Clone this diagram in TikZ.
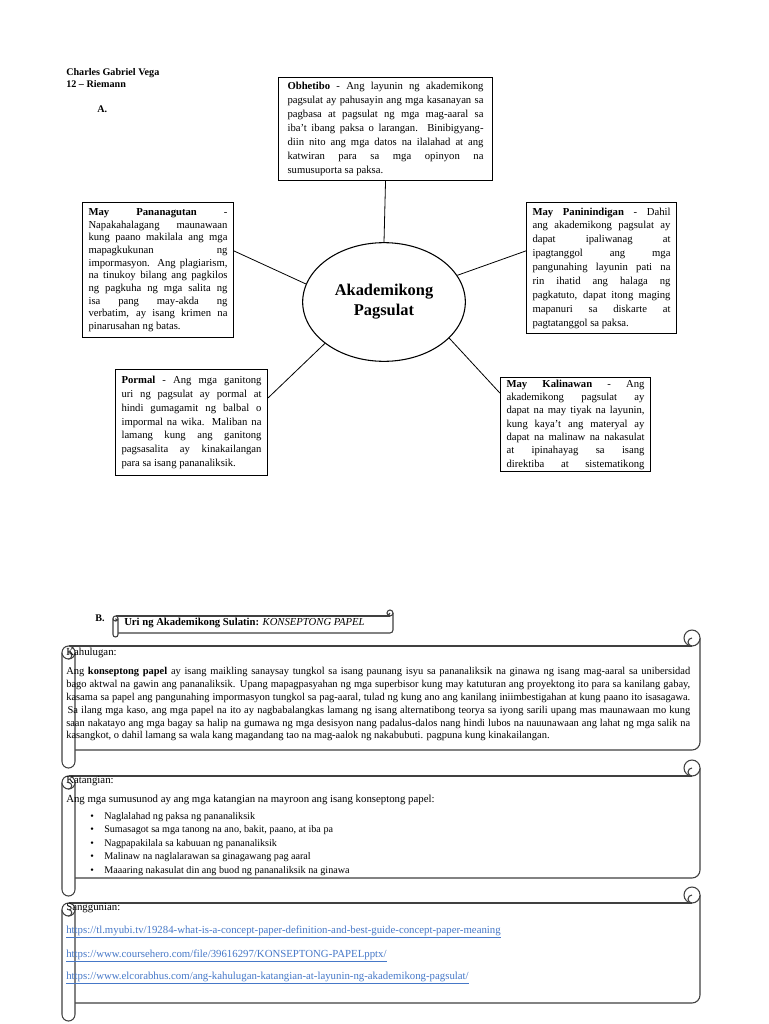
\documentclass[tikz,border=0pt]{standalone}
\usepackage{fontspec}
\setmainfont{Liberation Serif}
\usetikzlibrary{shapes.geometric, calc}
\definecolor{linkblue}{RGB}{70,120,200}

% horizontal scroll: left, top edge, right, bottom edge, roll width, curl radius, drop
\newcommand{\scrollshape}[7]{%
  \pgfmathsetmacro{\scL}{#1}\pgfmathsetmacro{\scT}{#2}%
  \pgfmathsetmacro{\scR}{#3}\pgfmathsetmacro{\scB}{#4}%
  \pgfmathsetmacro{\scW}{#5}\pgfmathsetmacro{\scH}{#5/2}%
  \pgfmathsetmacro{\scC}{#6}\pgfmathsetmacro{\scD}{#7}%
  \fill[white] (\scL,\scT) rectangle (\scR,\scB);
  \draw[scrollline] ({\scL+\scH},\scT) -- ({\scR-\scC},\scT);
  \draw[scrollline] (\scR,{\scT-\scC}) -- (\scR,{\scB-\scC})
    arc[start angle=0, end angle=90, radius=\scC] -- ({\scL+\scW},\scB);
  \draw[scrollline, fill=white] ({\scR-\scC},{\scT-\scC}) circle[radius=\scC];
  \draw[scrollline] ({\scR-\scC},\scT) arc[start angle=90, end angle=270, radius={\scC/2}];
  \draw[scrollline, fill=white] (\scL,{\scT+\scH}) -- (\scL,{\scB+\scD-\scH})
    arc[start angle=180, end angle=0, radius=\scH] -- ({\scL+\scW},{\scT+\scH});
  \draw[scrollline, fill=white] ({\scL+\scH},{\scT+\scH}) circle[radius=\scH];
  \draw[scrollline] ({\scL+\scH},{\scT+\scW}) arc[start angle=90, end angle=-90, radius={\scH/2}];
}

\begin{document}
\begin{tikzpicture}[x=0.75pt, y=-0.75pt,
  every node/.style={inner sep=0pt},
  mapbox/.style={draw, line width=0.8pt, fill=white, anchor=north west,
    align=justify, inner xsep=4.5pt, font=\fontsize{8}{10.4}\selectfont,
    execute at begin node={\hyphenpenalty=10000\relax\exhyphenpenalty=10000\relax}},
  link/.style={line width=0.6pt},
  scrollline/.style={draw=black!75, line width=0.8pt},
  plain/.style={anchor=base west, font=\fontsize{8.1}{9.6}\selectfont},
  urltext/.style={anchor=base west, font=\fontsize{8.1}{9.6}\selectfont, text=linkblue}
]
\useasboundingbox (0,0) rectangle (768,1024);
\fill[white] (0,0) rectangle (768,1024);

% A. header
\node[anchor=base west, font=\bfseries\fontsize{7.6}{9}\selectfont] (autor) at (66,75.5) {Charles Gabriel Vega};
\node[anchor=base west, font=\bfseries\fontsize{7.6}{9}\selectfont] (seksyon) at (66,87.5) {12 -- Riemann};
\node[anchor=base west, font=\bfseries\fontsize{7.6}{9}\selectfont] (partA) at (97,112.5) {A.};

% concept map
\node[draw, ellipse, line width=0.8pt, minimum width=122pt, minimum height=89pt,
  align=center, font=\bfseries\fontsize{12.3}{15}\selectfont] (akademiko) at (384,302) {Akademikong\\Pagsulat};

\node[mapbox, text width=147pt, inner xsep=6.75pt, minimum height=77.25pt] (obhetibo) at (278,77)
  {\textbf{Obhetibo} - Ang layunin ng akademikong\linebreak pagsulat ay pahusayin ang mga kasanayan sa\linebreak
   pagbasa at pagsulat ng mga mag-aaral sa\linebreak iba't ibang paksa o larangan. Binibigyang-\linebreak
   diin nito ang mga datos na ilalahad at ang\linebreak katwiran para sa mga opinyon na\linebreak sumusuporta sa paksa.};

\node[mapbox, text width=104.25pt, minimum height=101.25pt, font=\fontsize{8}{9.5}\selectfont] (pananagutan) at (82,202)
  {\textbf{May Pananagutan} -\linebreak Napakahalagang maunawaan\linebreak kung paano makilala ang mga\linebreak
   mapagkukunan ng\linebreak impormasyon. Ang plagiarism,\linebreak na tinukoy bilang ang pagkilos\linebreak
   ng pagkuha ng mga salita ng\linebreak isa pang may-akda ng\linebreak verbatim, ay isang krimen na\linebreak
   pinarusahan ng batas.};

\node[mapbox, text width=103.5pt, minimum height=98.25pt] (paninindigan) at (526,202)
  {\textbf{May Paninindigan} - Dahil\linebreak ang akademikong pagsulat ay\linebreak dapat ipaliwanag at\linebreak
   ipagtanggol ang mga\linebreak pangunahing layunin pati na\linebreak rin ihatid ang halaga ng\linebreak
   pagkatuto, dapat itong maging\linebreak mapanuri sa diskarte at\linebreak pagtatanggol sa paksa.};

\node[mapbox, text width=105pt, minimum height=79.5pt] (pormal) at (115,369)
  {\textbf{Pormal} - Ang mga ganitong\linebreak uri ng pagsulat ay pormal at\linebreak hindi gumagamit ng balbal o\linebreak
   impormal na wika. Maliban na\linebreak lamang kung ang ganitong\linebreak pagsasalita ay kinakailangan\linebreak
   para sa isang pananaliksik.};

\node[mapbox, text width=103.5pt, minimum height=70.5pt, font=\fontsize{8}{10}\selectfont] (kalinawan) at (500,377)
  {\textbf{May Kalinawan} - Ang\linebreak akademikong pagsulat ay\linebreak dapat na may tiyak na layunin,\linebreak
   kung kaya't ang materyal ay\linebreak dapat na malinaw na nakasulat\linebreak at ipinahayag sa isang\linebreak
   direktiba at sistematikong\parfillskip=0pt\par};

\draw[link] (obhetibo.south) -- (akademiko.north);
\draw[link] ($(pananagutan.north east)!0.36!(pananagutan.south east)$) -- (akademiko.167);
\draw[link] ($(paninindigan.north west)!0.37!(paninindigan.south west)$) -- (akademiko.20);
\draw[link] ($(pormal.north east)!0.27!(pormal.south east)$) -- (akademiko.215);
\draw[link] ($(kalinawan.north west)!0.17!(kalinawan.south west)$) -- (akademiko.331);

% B. scrolls
\node[anchor=base west, font=\bfseries\fontsize{7.6}{9}\selectfont] (partB) at (95,621.5) {B.};
\scrollshape{113}{616}{393}{633}{5}{3}{4}
\node[anchor=base west, font=\fontsize{8}{9.6}\selectfont] (uri) at (124,625.5)
  {\textbf{Uri ng Akademikong Sulatin:} \textit{KONSEPTONG PAPEL}};

\scrollshape{62}{646}{700}{750}{13}{8}{18}
\node[plain] (kahulugan) at (66,655.5) {Kahulugan:};
\node[anchor=north west, text width=468pt, align=justify, font=\fontsize{7.85}{9.6}\selectfont,
  execute at begin node={\hyphenpenalty=10000\relax}] (kahuluganTxt) at (66,667.4)
  {Ang \textbf{konseptong papel} ay isang maikling sanaysay tungkol sa isang paunang isyu sa pananaliksik na ginawa ng isang mag-aaral sa unibersidad\linebreak
   bago aktwal na gawin ang pananaliksik. Upang mapagpasyahan ng mga superbisor kung may katuturan ang proyektong ito para sa kanilang gabay,\linebreak
   kasama sa papel ang pangunahing impormasyon tungkol sa pag-aaral, tulad ng kung ano ang kanilang iniimbestigahan at kung paano ito isasagawa.\linebreak
   \mbox{}\hspace{1pt}Sa ilang mga kaso, ang mga papel na ito ay nagbabalangkas lamang ng isang alternatibong teorya sa iyong sarili upang mas maunawaan mo kung\linebreak
   saan nakatayo ang mga bagay sa halip na gumawa ng mga desisyon nang padalus-dalos nang hindi lubos na nauunawaan ang lahat ng mga salik na\linebreak
   kasangkot, o dahil lamang sa wala kang magandang tao na mag-aalok ng nakabubuti. pagpuna kung kinakailangan.};

\scrollshape{62}{776}{700}{878}{13}{8}{18}
\node[plain] (katangian) at (66,783.5) {Katangian:};
\node[plain] (katangianIntro) at (66,802.5) {Ang mga sumusunod ay ang mga katangian na mayroon ang isang konseptong papel:};
\node[anchor=north west, align=left, font=\fontsize{7.6}{10.1}\selectfont] (katangianList) at (90,812)
  {\makebox[10.5pt][l]{\textbullet}Naglalahad ng paksa ng pananaliksik\\
   \makebox[10.5pt][l]{\textbullet}Sumasagot sa mga tanong na ano, bakit, paano, at iba pa\\
   \makebox[10.5pt][l]{\textbullet}Nagpapakilala sa kabuuan ng pananaliksik\\
   \makebox[10.5pt][l]{\textbullet}Malinaw na naglalarawan sa ginagawang pag aaral\\
   \makebox[10.5pt][l]{\textbullet}Maaaring nakasulat din ang buod ng pananaliksik na ginawa};

\scrollshape{62}{903}{700}{1003}{13}{8}{18}
\node[plain] (sanggunian) at (66,910.5) {Sanggunian:};
\node[urltext] (url1) at (66,933.5) {\underline{https://tl.myubi.tv/19284-what-is-a-concept-paper-definition-and-best-guide-concept-paper-meaning}};
\node[urltext] (url2) at (66,957.5) {\underline{https://www.coursehero.com/file/39616297/KONSEPTONG-PAPELpptx/}};
\node[urltext] (url3) at (66,979.5) {\underline{https://www.elcorabhus.com/ang-kahulugan-katangian-at-layunin-ng-akademikong-pagsulat/}};
\end{tikzpicture}
\end{document}
